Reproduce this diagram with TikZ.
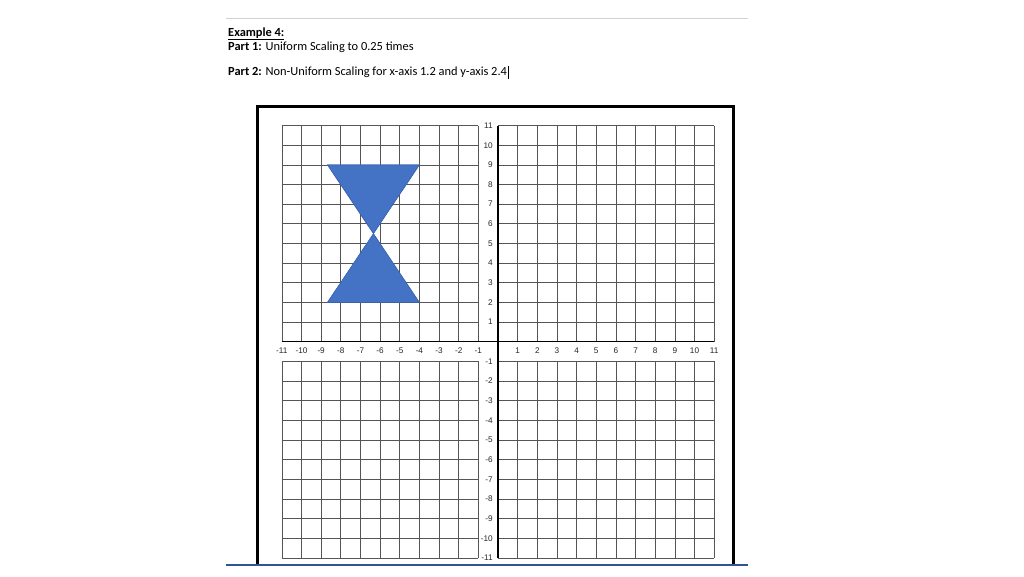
\documentclass[tikz,border=0pt]{standalone}
\usepackage{fontspec}
\setmainfont{Carlito}
\newfontfamily\axisfont{Liberation Sans}
\definecolor{triblue}{HTML}{4472C4}
\definecolor{triedge}{HTML}{3A62AE}
\definecolor{pagebreak}{RGB}{47,85,151}
\definecolor{gridgray}{HTML}{555555}
\begin{document}
\begin{tikzpicture}[x=1pt,y=-1pt,
  txt/.style={anchor=base west,inner sep=0pt,font=\fontsize{12.4}{14}\selectfont},
  gridline/.style={draw=gridgray,line width=0.7pt},
  axisline/.style={draw=black,line width=1.1pt},
  lbl/.style={inner sep=0pt,text=black!85,font=\axisfont\fontsize{8.2}{9}\selectfont},
  tri/.style={fill=triblue,draw=triedge,line width=0.4pt,line join=miter}]
\useasboundingbox[fill=white] (0,0) rectangle (1024,576);
% header
\draw[gray!35,line width=0.8pt] (226,18) -- (748,18);
\node[txt] (ex) at (228,36) {\underline{\textbf{Example 4:}}};
\node[txt] (p1) at (228,50) {\textbf{Part 1:} Uniform Scaling to 0.25 times};
\node[txt] (p2) at (228,75.5) {\textbf{Part 2:} Non-Uniform Scaling for x-axis 1.2 and y-axis 2.4};
\draw[line width=0.5pt] ([xshift=1pt]p2.base east) ++(0,3) -- ++(0,-13);
% frame
\draw[line width=3pt,line join=miter] (257.5,564) -- (257.5,106.5) -- (733.5,106.5) -- (733.5,564);
% grid
\begin{scope}[xshift=498pt,yshift=-341.7pt,x=19.65pt,y=19.65pt]
  % upper-left and lower-left quadrants
  \foreach \i in {-11,...,-1} {
    \draw[gridline] (\i,0) -- (\i,11);
    \draw[gridline] (\i,-1) -- (\i,-11);
  }
  \foreach \j in {0,...,11} \draw[gridline] (-11,\j) -- (-1,\j);
  \foreach \j in {-1,...,-11} \draw[gridline] (-11,\j) -- (-1,\j);
  % upper-right and lower-right quadrants
  \foreach \i in {0,...,11} {
    \draw[gridline] (\i,0) -- (\i,11);
    \draw[gridline] (\i,-1) -- (\i,-11);
  }
  \foreach \j in {0,...,11} \draw[gridline] (0,\j) -- (11,\j);
  \foreach \j in {-1,...,-11} \draw[gridline] (0,\j) -- (11,\j);
  % axes
  \draw[axisline] (-11,0) -- (11,0);
  \draw[axisline] (0,11) -- (0,-11);
  \foreach \i in {-11,...,-1,1,2,...,11} {
    \node[lbl] (xl\i) at (\i,-0.47) {\i};
    \node[lbl,anchor=east] (yl\i) at (-0.26,\i) {\i};
  }
  \fill[tri] (-8.68,9) -- (-4,9) -- (-6.34,5.5) -- cycle;
  \fill[tri] (-8.68,2) -- (-4,2) -- (-6.34,5.5) -- cycle;
  \draw[triedge,line width=0.4pt] (-8.68,9) -- (-4,9) -- (-6.34,5.5) -- cycle;
  \draw[triedge,line width=0.4pt] (-8.68,2) -- (-4,2) -- (-6.34,5.5) -- cycle;
\end{scope}
% page-break line
\fill[white] (0,566) rectangle (1024,576);
\draw[pagebreak,line width=2.6pt] (226,565) -- (748,565);
\end{tikzpicture}
\end{document}
